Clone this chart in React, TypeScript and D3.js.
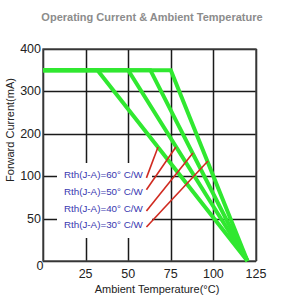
import React from 'react';
import * as d3 from 'd3';

// Derating curves: current held at 350mA until the knee, then falls to 0 at 120°C
const rthLabels = ['Rth(J-A)=60° C/W', 'Rth(J-A)=50° C/W', 'Rth(J-A)=40° C/W', 'Rth(J-A)=30° C/W'];
const kneeTemps = [32, 50, 63, 75];
const maxCurrent = 350;
const zeroTemp = 120;

// leader lines from each label to its curve (temp, current)
const leaderStart = [[60.7, 98], [60.7, 84], [60.7, 59], [60.7, 40]];
const leaderEnd = [[67.5, 169], [78, 169], [88, 155], [96.8, 136]];
const labelTemp = 12.3;
const labelCurrent = [105, 82.5, 62.5, 43.6];

const xTicks = [25, 50, 75, 100, 125];
const yTicks = [50, 100, 200, 300, 400];
const yGrid = [0, 50, 100, 200, 300, 400];

const W = 288;
const H = 307;
const font = 'Arial, "Liberation Sans", sans-serif';

const App: React.FC = () => {
  const x = d3.scaleLinear().domain([0, 125]).range([43, 256]);
  // non-uniform axis: gridlines equally spaced at 0, 50, 100, 200, 300, 400
  const y = d3.scaleLinear().domain(yGrid).range([261, 218.6, 176.2, 133.8, 91.4, 49]);

  const line = d3.line<[number, number]>()
    .x(d => x(d[0]))
    .y(d => y(d[1]));

  const curves = kneeTemps.map(k => [[0, maxCurrent], [k, maxCurrent], [zeroTemp, 0]] as [number, number][]);

  const gridPath =
    yGrid.map(v => `M${x(0)},${Math.round(y(v)) + 0.5}H${x(125)}`).join('') +
    [0, ...xTicks].map(v => `M${Math.round(x(v)) + 0.5},${y(0)}V${y(400)}`).join('');

  return (
    <svg width={W} height={H} style={{ position: 'fixed', left: 0, top: 0, background: '#fff' }}>
      <text x={152} y={17} textAnchor="middle" dominantBaseline="central"
        style={{ fontFamily: font, fontSize: 11, fontWeight: 'bold', fill: '#8c8c8c' }}>
        Operating Current &amp; Ambient Temperature
      </text>

      {/* grid */}
      <path d={gridPath} fill="none" stroke="#1a1a1a" strokeWidth={1.5} />
      <rect x={x(0)} y={y(400)} width={x(125) - x(0)} height={y(0) - y(400)}
        fill="none" stroke="#444" strokeWidth={1.4} />

      {/* white box behind the legend labels */}
      <rect x={57} y={163} width={95} height={75} fill="#fff" />

      {/* curves */}
      {curves.map((c, i) => (
        <path key={'c' + i} d={line(c) || ''} fill="none" stroke="#30e830" strokeWidth={4} strokeLinejoin="miter" />
      ))}

      {/* leader lines */}
      {leaderStart.map((s, i) => (
        <line key={'l' + i} x1={x(s[0])} y1={y(s[1])} x2={x(leaderEnd[i][0])} y2={y(leaderEnd[i][1])}
          stroke="#d02a20" strokeWidth={1.6} />
      ))}

      {rthLabels.map((t, i) => (
        <text key={'t' + i} x={x(labelTemp)} y={y(labelCurrent[i])} dominantBaseline="central"
          style={{ fontFamily: font, fontSize: 9.8, fill: '#3838b0' }}>
          {t}
        </text>
      ))}

      {/* axis labels */}
      {yTicks.map(v => (
        <text key={'yt' + v} x={41} y={y(v)} textAnchor="end" dominantBaseline="central"
          style={{ fontFamily: font, fontSize: 12.5, fill: '#222' }}>
          {v}
        </text>
      ))}
      <text x={40} y={266} textAnchor="middle" dominantBaseline="central"
        style={{ fontFamily: font, fontSize: 12.5, fill: '#222' }}>0</text>
      {xTicks.map(v => (
        <text key={'xt' + v} x={x(v)} y={274} textAnchor="middle" dominantBaseline="central"
          style={{ fontFamily: font, fontSize: 12.5, fill: '#222' }}>
          {v}
        </text>
      ))}
      <text x={157} y={289} textAnchor="middle" dominantBaseline="central"
        style={{ fontFamily: font, fontSize: 11, fill: '#222' }}>
        Ambient Temperature(°C)
      </text>
      <text transform="translate(10,130) rotate(-90)" textAnchor="middle" dominantBaseline="central"
        style={{ fontFamily: font, fontSize: 11, fill: '#222' }}>
        Forward Current(mA)
      </text>
    </svg>
  );
};

export default App;
